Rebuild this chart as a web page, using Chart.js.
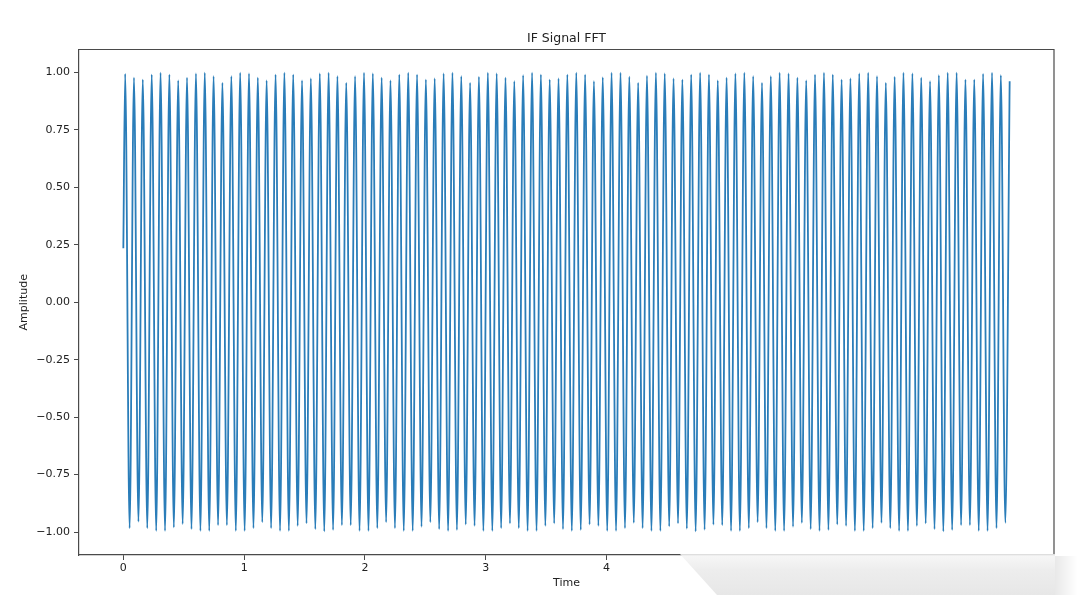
<!DOCTYPE html>
<html>
<head>
<meta charset="utf-8">
<title>IF Signal FFT</title>
<script src="https://cdn.jsdelivr.net/npm/chart.js@4.4.1/dist/chart.umd.min.js"></script>
<style>
  html, body { margin: 0; padding: 0; background: #ffffff; }
  #wrap { position: relative; width: 1080px; height: 595px; overflow: hidden; }
  #fold {
    position: absolute; left: 0; top: 0; width: 1080px; height: 595px;
    background: linear-gradient(to bottom, #d6d6d6 0px, #f6f6f6 2px, #ededed 16px, #e7e7e7 41px);
    clip-path: polygon(680px 554px, 1055px 554px, 1055px 595px, 717px 595px);
    background-position: 0 554px; background-repeat: no-repeat; background-size: 1080px 41px;
  }
  #foldShadow {
    position: absolute; left: 1055px; top: 556px; width: 22px; height: 39px;
    background: linear-gradient(to right, rgba(0,0,0,0.09), rgba(0,0,0,0));
  }
</style>
</head>
<body>
<div id="wrap">
  <canvas id="signalChart" width="1080" height="595"></canvas>
  <div id="fold"></div>
  <div id="foldShadow"></div>
</div>
<script>
// ==========================================
// DATA
// ==========================================
const xTickValues = [0, 1, 2, 3, 4, 5, 6, 7];
const xTickLabels = ['0', '1', '2', '3', '4', '5', '6', '7'];
const yTickValues = [-1.0, -0.75, -0.5, -0.25, 0, 0.25, 0.5, 0.75, 1.0];
const yTickLabels = ['\u22121.00', '\u22120.75', '\u22120.50', '\u22120.25', '0.00', '0.25', '0.50', '0.75', '1.00'];

const startTime = 0;
const startAmplitude = 0.235;

// crest of every cycle
const peakTimes = [
  0.015, 0.088, 0.161, 0.235, 0.308, 0.381, 0.454, 0.527, 0.601, 0.674,
  0.747, 0.820, 0.894, 0.967, 1.040, 1.113, 1.186, 1.260, 1.333, 1.406,
  1.479, 1.552, 1.626, 1.699, 1.772, 1.845, 1.918, 1.992, 2.065, 2.138,
  2.211, 2.284, 2.358, 2.431, 2.504, 2.577, 2.651, 2.724, 2.797, 2.870,
  2.943, 3.017, 3.090, 3.163, 3.236, 3.309, 3.383, 3.456, 3.529, 3.602,
  3.675, 3.749, 3.822, 3.895, 3.968, 4.041, 4.115, 4.188, 4.261, 4.334,
  4.408, 4.481, 4.554, 4.627, 4.700, 4.774, 4.847, 4.920, 4.993, 5.066,
  5.140, 5.213, 5.286, 5.359, 5.432, 5.506, 5.579, 5.652, 5.725, 5.799,
  5.872, 5.945, 6.018, 6.091, 6.165, 6.238, 6.311, 6.384, 6.457, 6.531,
  6.604, 6.677, 6.750, 6.823, 6.897, 6.970, 7.043, 7.116, 7.190, 7.263,
  7.336
];
const peakValues = [
  0.994, 0.977, 0.969, 0.991, 0.999, 0.991, 0.965, 0.977, 0.996, 0.999,
  0.984, 0.955, 0.984, 0.999, 0.996, 0.977, 0.965, 0.991, 0.999, 0.991,
  0.965, 0.974, 0.996, 0.999, 0.984, 0.955, 0.984, 0.999, 0.996, 0.977,
  0.965, 0.991, 0.999, 0.991, 0.969, 0.974, 0.996, 0.999, 0.984, 0.955,
  0.981, 0.999, 0.996, 0.977, 0.962, 0.988, 0.999, 0.991, 0.969, 0.974,
  0.991, 0.999, 0.991, 0.962, 0.979, 0.999, 0.999, 0.982, 0.955, 0.986,
  0.999, 0.996, 0.974, 0.969, 0.991, 0.999, 0.991, 0.965, 0.977, 0.996,
  0.999, 0.984, 0.955, 0.984, 0.999, 0.996, 0.977, 0.965, 0.991, 0.999,
  0.991, 0.969, 0.974, 0.996, 0.999, 0.984, 0.955, 0.981, 0.999, 0.996,
  0.977, 0.962, 0.988, 0.999, 0.999, 0.969, 0.969, 0.994, 0.999, 0.988,
  0.962
];

// trough of every cycle
const troughTimes = [
  0.052, 0.125, 0.198, 0.272, 0.345, 0.418, 0.491, 0.564, 0.638, 0.711,
  0.784, 0.857, 0.931, 1.004, 1.077, 1.150, 1.223, 1.297, 1.370, 1.443,
  1.516, 1.589, 1.663, 1.736, 1.809, 1.882, 1.955, 2.029, 2.102, 2.175,
  2.248, 2.321, 2.395, 2.468, 2.541, 2.614, 2.688, 2.761, 2.834, 2.907,
  2.980, 3.054, 3.127, 3.200, 3.273, 3.346, 3.420, 3.493, 3.566, 3.639,
  3.712, 3.786, 3.859, 3.932, 4.005, 4.078, 4.152, 4.225, 4.298, 4.371,
  4.445, 4.518, 4.591, 4.664, 4.737, 4.811, 4.884, 4.957, 5.030, 5.103,
  5.177, 5.250, 5.323, 5.396, 5.469, 5.543, 5.616, 5.689, 5.762, 5.836,
  5.909, 5.982, 6.055, 6.128, 6.202, 6.275, 6.348, 6.421, 6.494, 6.568,
  6.641, 6.714, 6.787, 6.860, 6.934, 7.007, 7.080, 7.153, 7.227, 7.300
];
const troughValues = [
  -0.983, -0.955, -0.983, -0.995, -0.995, -0.980, -0.965, -0.987, -0.995, -0.995,
  -0.970, -0.970, -0.995, -0.995, -0.983, -0.957, -0.983, -0.995, -0.995, -0.973,
  -0.962, -0.987, -0.997, -0.991, -0.970, -0.970, -0.995, -0.995, -0.983, -0.957,
  -0.983, -0.995, -0.995, -0.977, -0.957, -0.987, -0.995, -0.991, -0.967, -0.973,
  -0.995, -0.995, -0.983, -0.962, -0.983, -0.995, -0.995, -0.973, -0.962, -0.987,
  -0.995, -0.991, -0.967, -0.973, -0.995, -0.995, -0.983, -0.960, -0.983, -0.995,
  -0.995, -0.975, -0.962, -0.985, -0.997, -0.990, -0.968, -0.970, -0.995, -0.995,
  -0.983, -0.957, -0.983, -0.995, -0.995, -0.977, -0.960, -0.987, -0.995, -0.991,
  -0.967, -0.973, -0.995, -0.995, -0.983, -0.960, -0.983, -0.995, -0.995, -0.973,
  -0.962, -0.987, -0.997, -0.991, -0.970, -0.970, -0.995, -0.995, -0.983, -0.960
];

// ==========================================
// BUILD THE SERIES (start, then crest/trough alternating)
// ==========================================
function buildSignalPoints() {
  const pts = [{ x: startTime, y: startAmplitude }];
  for (let i = 0; i < peakTimes.length; i++) {
    pts.push({ x: peakTimes[i], y: peakValues[i] });
    if (i < troughTimes.length) pts.push({ x: troughTimes[i], y: troughValues[i] });
  }
  return pts;
}

const FONT = 'DejaVu Sans';
const TEXT = '#222222';
const SPINE = '#4a4a4a';

// top + right spines, matplotlib style box, plus the title
const boxPlugin = {
  id: 'box',
  afterDatasetsDraw(chart) {
    const { ctx, chartArea: a } = chart;
    ctx.save();
    ctx.strokeStyle = SPINE;
    ctx.lineWidth = 1.2;
    ctx.beginPath();
    ctx.moveTo(a.left, a.top);
    ctx.lineTo(a.right, a.top);
    ctx.lineTo(a.right, a.bottom);
    ctx.stroke();
    ctx.restore();
  },
  afterDraw(chart) {
    const { ctx, chartArea: a } = chart;
    ctx.save();
    ctx.fillStyle = TEXT;
    ctx.font = '12.5px "' + FONT + '"';
    ctx.textAlign = 'center';
    ctx.textBaseline = 'middle';
    ctx.fillText('IF Signal FFT', (a.left + a.right) / 2, 38.5);
    ctx.restore();
  }
};

document.addEventListener('DOMContentLoaded', () => {
  const ctx = document.getElementById('signalChart').getContext('2d');

  new Chart(ctx, {
    type: 'line',
    data: {
      datasets: [{
        data: buildSignalPoints(),
        borderColor: '#2a7db9',
        borderWidth: 1.8,
        pointRadius: 0,
        fill: false,
        cubicInterpolationMode: 'monotone'
      }]
    },
    options: {
      responsive: false,
      devicePixelRatio: 1,
      animation: false,
      layout: { padding: { top: 49.5, right: 26, left: 0, bottom: 0 } },
      plugins: {
        legend: { display: false },
        tooltip: { enabled: false },
        title: { display: false }
      },
      scales: {
        x: {
          type: 'linear',
          min: -0.367,
          max: 7.703,
          afterBuildTicks: (axis) => { axis.ticks = xTickValues.map(v => ({ value: v })); },
          afterFit: (scale) => { scale.height = 40; },
          ticks: {
            callback: (v, i) => xTickLabels[i],
            color: TEXT,
            font: { family: FONT, size: 11 },
            padding: 2,
            maxRotation: 0,
            autoSkip: false
          },
          grid: { drawOnChartArea: false, drawTicks: true, tickLength: 5, tickColor: SPINE, tickWidth: 1 },
          border: { display: true, color: SPINE, width: 1.2 },
          title: {
            display: true,
            text: 'Time',
            color: TEXT,
            font: { family: FONT, size: 11 },
            padding: { top: 0, bottom: 5 }
          }
        },
        y: {
          min: -1.1,
          max: 1.1,
          afterBuildTicks: (axis) => { axis.ticks = yTickValues.map(v => ({ value: v })); },
          afterFit: (scale) => { scale.width = 79; },
          ticks: {
            callback: (v, i) => yTickLabels[i],
            color: TEXT,
            font: { family: FONT, size: 11 },
            padding: 4,
            autoSkip: false
          },
          grid: { drawOnChartArea: false, drawTicks: true, tickLength: 5, tickColor: SPINE, tickWidth: 1 },
          border: { display: true, color: SPINE, width: 1.2 },
          title: {
            display: true,
            text: 'Amplitude',
            color: TEXT,
            font: { family: FONT, size: 11 },
            padding: { top: 18, bottom: 0 }
          }
        }
      }
    },
    plugins: [boxPlugin]
  });
});
</script>
</body>
</html>
